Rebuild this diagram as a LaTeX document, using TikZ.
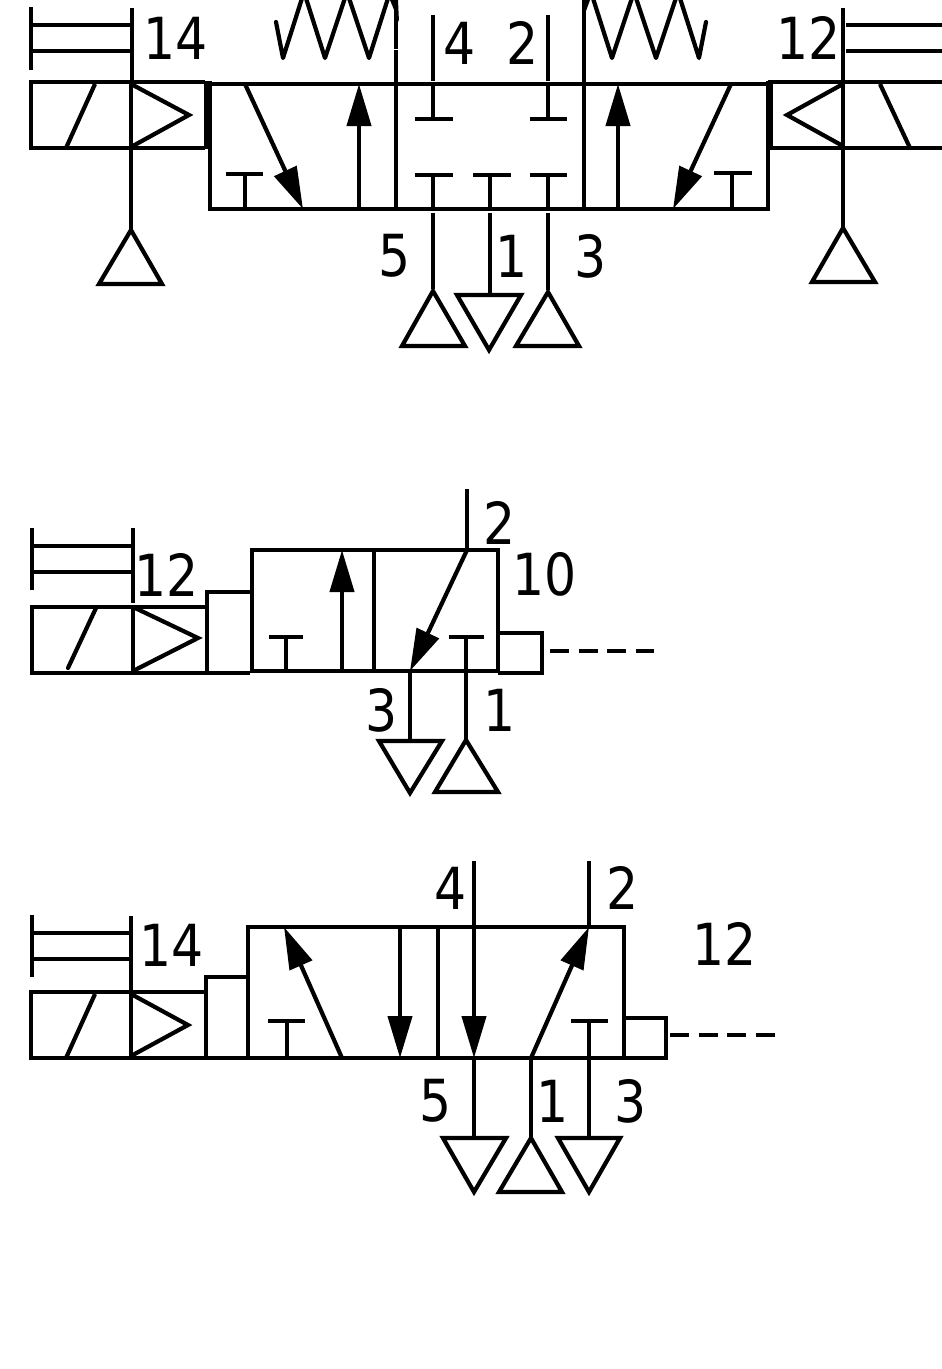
\documentclass[tikz,border=0pt]{standalone}
\usepackage{fontspec}
\setmainfont{DejaVu Sans}
\usetikzlibrary{arrows.meta}
\tikzset{
  ln/.style={line width=4.2pt,line cap=butt,line join=miter,black},
  flow/.style={ln,-{Triangle[length=42pt,width=24pt]}},
  lbl/.style={font=\fontsize{58}{58}\selectfont,xscale=.87,xshift=2pt,inner sep=0pt,black},
  dash line/.style={ln,dash pattern=on 19pt off 9.5pt},
}
\begin{document}
\begin{tikzpicture}[x=1pt,y=-1pt]
\useasboundingbox (0,0) rectangle (942,1369);
\clip (0,0) rectangle (942,1369);
% ===== top valve =====
% left pilot
\draw[ln] (31,7) -- (31,70);
\draw[ln] (31,25) -- (132,25);
\draw[ln] (31,51) -- (132,51);
\draw[ln] (132,8) -- (132,82);
\draw[ln] (205,82) -- (31,82) -- (31,148) -- (205,148);
\draw[ln] (95,84) -- (66,148);
\draw[ln] (131,84) -- (131,230);
\draw[ln] (131,84) -- (189,115) -- (131,147);
\draw[ln] (131,230) -- (99,284) -- (162,284) -- cycle;
% body
\draw[ln] (210,84) rectangle (768,209);
\draw[ln,line width=8pt] (208,81) -- (208,149);
\draw[ln,line width=7pt] (769,81) -- (769,149);
\draw[flow] (245,84) -- (303,209);
\draw[flow] (359,209) -- (359,84);
\draw[flow] (618,209) -- (618,84);
\draw[flow] (731,84) -- (673,209);
\draw[ln] (226,174) -- (263,174);
\draw[ln] (245,174) -- (245,209);
\draw[ln] (714,173) -- (752,173);
\draw[ln] (732,173) -- (732,209);
% spool dividers and springs
\draw[ln] (396,0) -- (396,49);
\draw[ln] (396,50) -- (396,209);
\fill[black] (390,0) -- (399,22) -- (398,0) -- cycle;
\draw[ln] (584,0) -- (584,209);
\fill[black] (582,22) -- (590,0) -- (582,0) -- cycle;
\draw[ln,line join=round,line cap=round] (276,22) -- (283,58) -- (304,-8) -- (325,58) -- (347,-8) -- (369,58) -- (390,-8);
\draw[ln,line join=round,line cap=round] (706,22) -- (699,58) -- (678,-8) -- (656,58) -- (634,-8) -- (612,58) -- (591,-8);
% ports
\draw[ln] (433,15) -- (433,81);
\draw[ln] (433,86) -- (433,119);
\draw[ln] (415,119) -- (453,119);
\draw[ln] (548,15) -- (548,81);
\draw[ln] (548,86) -- (548,119);
\draw[ln] (530,119) -- (567,119);
\draw[ln] (415,175) -- (453,175);
\draw[ln] (433,175) -- (433,209);
\draw[ln] (473,175) -- (511,175);
\draw[ln] (490,175) -- (490,209);
\draw[ln] (530,175) -- (567,175);
\draw[ln] (548,175) -- (548,209);
\draw[ln] (433,213) -- (433,289);
\draw[ln] (490,213) -- (490,295);
\draw[ln] (548,213) -- (548,290);
\draw[ln] (433,291) -- (402,346) -- (465,346) -- cycle;
\draw[ln] (457,295) -- (521,295) -- (489,350) -- cycle;
\draw[ln] (548,292) -- (516,346) -- (579,346) -- cycle;
% right pilot
\draw[ln] (768,82) -- (942,82);
\draw[ln] (768,148) -- (942,148);
\draw[ln] (843,8) -- (843,228);
\draw[ln] (846,25) -- (942,25);
\draw[ln] (846,51) -- (942,51);
\draw[ln] (843,84) -- (787,115) -- (843,146);
\draw[ln] (880,84) -- (910,148);
\draw[ln] (843,228) -- (812,282) -- (875,282) -- cycle;
% labels
\node[lbl] (t14) at (174,38) {14};
\node[lbl] (t4) at (458,43) {4};
\node[lbl] (t2) at (521,43) {2};
\node[lbl] (t12) at (807,38) {12};
\node[lbl] (t5) at (393,256) {5};
\node[lbl] (t1) at (510,256) {1};
\node[lbl] (t3) at (589,256) {3};
% ===== middle valve =====
\draw[ln] (32,528) -- (32,590);
\draw[ln] (133,528) -- (133,603);
\draw[ln] (32,546) -- (133,546);
\draw[ln] (32,572) -- (133,572);
\draw[ln] (207,607) -- (32,607) -- (32,673) -- (250,673);
\draw[ln] (133,607) -- (133,673);
\draw[ln] (133,607) -- (198,638) -- (133,671);
\draw[ln,line cap=round] (96,608) -- (68,668);
\draw[ln] (207,673) -- (207,592) -- (250,592);
\draw[ln] (252,550) rectangle (498,671);
\draw[ln] (374,550) -- (374,671);
\draw[flow] (342,671) -- (342,550);
\draw[flow] (467,550) -- (410,671);
\draw[ln] (269,637) -- (303,637);
\draw[ln] (286,637) -- (286,671);
\draw[ln] (449,637) -- (484,637);
\draw[ln] (466,637) -- (466,740);
\draw[ln] (467,489) -- (467,550);
\draw[ln] (410,671) -- (410,741);
\draw[ln] (379,741) -- (442,741) -- (410,793) -- cycle;
\draw[ln] (466,740) -- (435,792) -- (498,792) -- cycle;
\draw[ln] (498,633) -- (542,633) -- (542,673) -- (498,673);
\draw[dash line] (550,651) -- (654,651);
\node[lbl] (m2) at (498,523) {2};
\node[lbl] (m12) at (165,575) {12};
\node[lbl] (m10) at (543,574) {10};
\node[lbl] (m3) at (380,710) {3};
\node[lbl] (m1) at (498,710) {1};
% ===== bottom valve =====
\draw[ln] (32,915) -- (32,977);
\draw[ln] (131,916) -- (131,992);
\draw[ln] (32,933) -- (131,933);
\draw[ln] (32,959) -- (131,959);
\draw[ln] (206,992) -- (31,992) -- (31,1058) -- (666,1058) -- (666,1018) -- (624,1018);
\draw[ln] (131,992) -- (131,1058);
\draw[ln] (131,994) -- (188,1025) -- (131,1056);
\draw[ln] (95,994) -- (66,1058);
\draw[ln] (206,1058) -- (206,977) -- (248,977);
\draw[ln] (248,1058) -- (248,927) -- (624,927) -- (624,1058);
\draw[ln] (438,927) -- (438,1058);
\draw[flow] (400,927) -- (400,1058);
\draw[flow] (474,861) -- (474,1058);
\draw[ln] (474,1058) -- (474,1137);
\draw[flow] (342,1058) -- (284,927);
\draw[flow] (531,1058) -- (589,927);
\draw[ln] (531,1058) -- (531,1138);
\draw[ln] (589,861) -- (589,927);
\draw[ln] (571,1021) -- (608,1021);
\draw[ln] (589,1021) -- (589,1137);
\draw[ln] (268,1021) -- (305,1021);
\draw[ln] (287,1021) -- (287,1058);
\draw[ln] (443,1138) -- (506,1138) -- (474,1192) -- cycle;
\draw[ln] (531,1138) -- (499,1192) -- (562,1192) -- cycle;
\draw[ln] (558,1138) -- (620,1138) -- (589,1192) -- cycle;
\draw[dash line] (670,1035) -- (775,1035);
\node[lbl] (b14) at (170,945) {14};
\node[lbl] (b4) at (449,888) {4};
\node[lbl] (b2) at (621,888) {2};
\node[lbl] (b12) at (723,944) {12};
\node[lbl] (b5) at (434,1101) {5};
\node[lbl] (b1) at (551,1101) {1};
\node[lbl] (b3) at (629,1101) {3};
\end{tikzpicture}
\end{document}
